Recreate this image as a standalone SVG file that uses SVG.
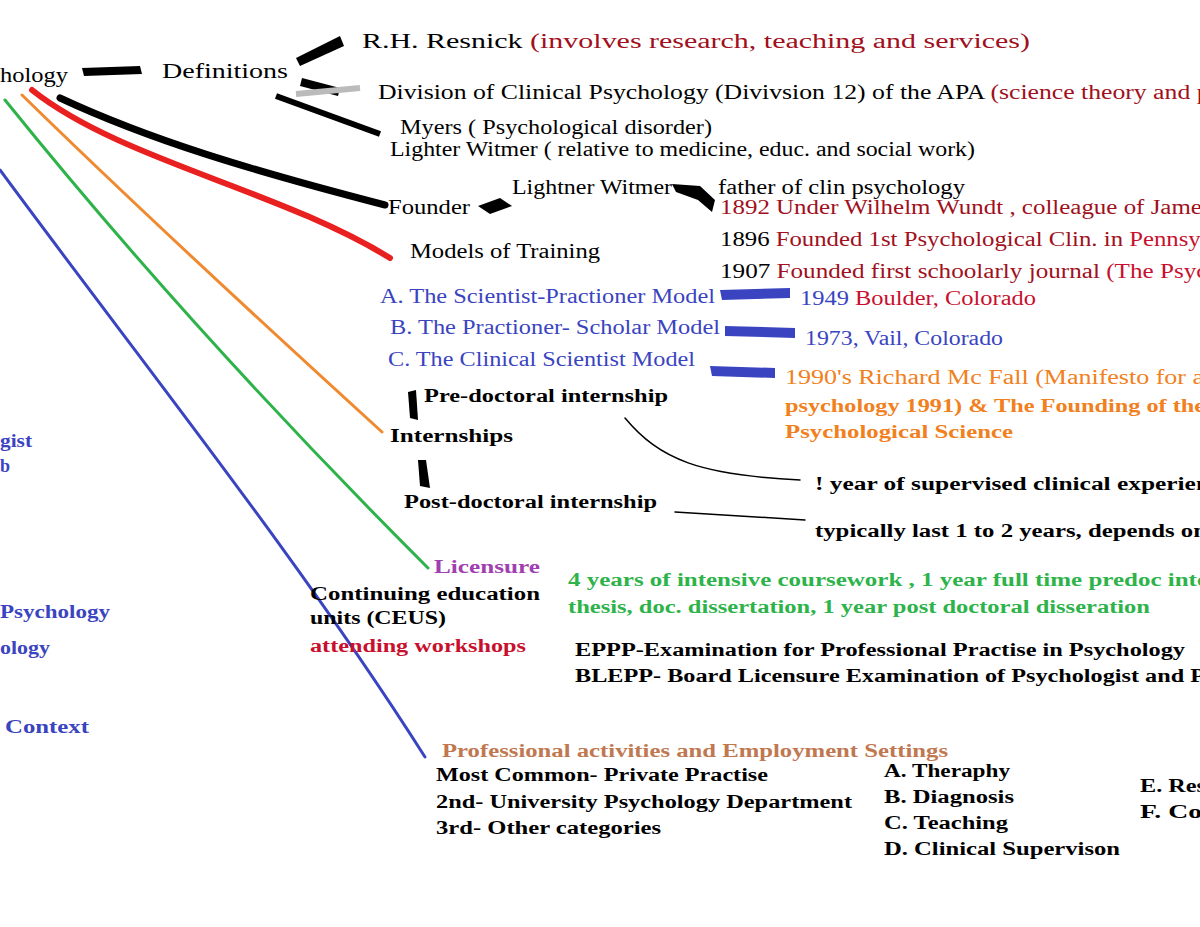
<svg xmlns="http://www.w3.org/2000/svg" width="1200" height="927" viewBox="0 0 1200 927">
<style>
text{font-family:"Liberation Serif",serif;font-size:20px}
.b{font-weight:bold;font-size:18px}
.k{fill:#000}.r{fill:#c8102e}.dr{fill:#a01020}.bl{fill:#3a44c0}.o{fill:#f08020}.g{fill:#2db34a}.p{fill:#a040b0}.br{fill:#c07850}
.ln{fill:none;stroke-linecap:round}
</style>
<rect width="1200" height="927" fill="#fff"/>
<g id="connectors">
<path class="ln" d="M60,98 C150,140 250,170 385,205" stroke="#000" stroke-width="7"/>
<path class="ln" d="M32,90 C120,160 280,190 390,258" stroke="#e82020" stroke-width="6"/>
<path class="ln" d="M22,95 C150,220 270,330 382,432" stroke="#f08a30" stroke-width="3"/>
<path class="ln" d="M5,100 C150,280 300,440 428,568" stroke="#2db34a" stroke-width="3"/>
<path class="ln" d="M0,170 C140,360 300,560 425,757" stroke="#3a44c0" stroke-width="3"/>
<path d="M82,68 L140,66 L142,74 L84,76Z" fill="#000"/>
<path d="M296,58 L340,36 L344,46 L300,66Z" fill="#000"/>
<path d="M302,78 L340,88 L338,96 L300,86Z" fill="#000"/>
<path d="M296,94 L360,88" stroke="#bbb" stroke-width="6" fill="none"/>
<path d="M276,96 L380,134" stroke="#000" stroke-width="6" fill="none"/>
<path d="M478,206 L500,198 L512,206 L490,214Z" fill="#000"/>
<path d="M672,184 L700,186 L715,200 L712,212 L698,200 L676,192Z" fill="#000"/>
<path d="M720,290 L790,288 L790,298 L722,300Z" fill="#3a44c0"/>
<path d="M725,326 L795,328 L795,338 L725,336Z" fill="#3a44c0"/>
<path d="M710,366 L775,368 L775,378 L712,376Z" fill="#3a44c0"/>
<path d="M408,392 L416,390 L418,420 L410,418Z" fill="#000"/>
<path d="M418,460 L426,460 L430,488 L420,486Z" fill="#000"/>
<path class="ln" d="M625,418 C660,460 700,475 800,480" stroke="#000" stroke-width="1.5"/>
<path class="ln" d="M675,512 L805,520" stroke="#000" stroke-width="1.5"/>
</g>
<g id="n-root"><text x="0" y="82" class="k" font-size="22" textLength="68" lengthAdjust="spacingAndGlyphs">hology</text></g>
<g id="n-def"><text x="162" y="78" class="k" font-size="22" textLength="126" lengthAdjust="spacingAndGlyphs">Definitions</text></g>
<g id="n-resnick"><text x="362" y="48" font-size="22" textLength="668" lengthAdjust="spacingAndGlyphs"><tspan class="k">R.H. Resnick </tspan><tspan class="dr">(involves research, teaching and services)</tspan></text></g>
<g id="n-div"><text x="378" y="99" textLength="900" lengthAdjust="spacingAndGlyphs"><tspan class="k">Division of Clinical Psychology (Divivsion 12) of the APA </tspan><tspan class="dr">(science theory and practice</tspan></text></g>
<g id="n-myers"><text x="400" y="134" class="k" textLength="312" lengthAdjust="spacingAndGlyphs">Myers ( Psychological disorder)</text></g>
<g id="n-lighter"><text x="390" y="156" class="k" textLength="585" lengthAdjust="spacingAndGlyphs">Lighter Witmer ( relative to medicine, educ. and social work)</text></g>
<g id="n-founder"><text x="388" y="214" class="k" textLength="82" lengthAdjust="spacingAndGlyphs">Founder</text><text x="512" y="194" class="k" textLength="160" lengthAdjust="spacingAndGlyphs">Lightner Witmer</text></g>
<g id="n-facts">
<text x="718" y="194" class="k" textLength="247" lengthAdjust="spacingAndGlyphs">father of clin psychology</text>
<text x="720" y="214" class="dr" textLength="520" lengthAdjust="spacingAndGlyphs">1892 Under Wilhelm Wundt , colleague of James M</text>
<text x="720" y="246" textLength="500" lengthAdjust="spacingAndGlyphs"><tspan class="k">1896 </tspan><tspan class="dr">Founded 1st Psychological Clin. in </tspan><tspan class="r">Pennsylv</tspan></text>
<text x="720" y="278" textLength="500" lengthAdjust="spacingAndGlyphs"><tspan class="k">1907 </tspan><tspan class="dr">Founded first schoolarly journal </tspan><tspan class="r">(The Psych</tspan></text>
</g>
<g id="n-models"><text x="410" y="258" class="k" textLength="190" lengthAdjust="spacingAndGlyphs">Models of Training</text>
<text x="380" y="303" class="bl" textLength="335" lengthAdjust="spacingAndGlyphs">A. The Scientist-Practioner Model</text>
<text x="390" y="334" class="bl" textLength="330" lengthAdjust="spacingAndGlyphs">B. The Practioner- Scholar Model</text>
<text x="388" y="366" class="bl" textLength="307" lengthAdjust="spacingAndGlyphs">C. The Clinical Scientist Model</text>
<text x="800" y="305" class="bl" textLength="236" lengthAdjust="spacingAndGlyphs">1949 <tspan class="r">Boulder, Colorado</tspan></text>
<text x="805" y="345" class="bl" textLength="198" lengthAdjust="spacingAndGlyphs">1973, Vail, Colorado</text>
<text x="785" y="384" class="o" textLength="440" lengthAdjust="spacingAndGlyphs">1990's Richard Mc Fall (Manifesto for a S</text>
<text x="785" y="412" class="o b" textLength="420" lengthAdjust="spacingAndGlyphs">psychology 1991) &amp; The Founding of the</text>
<text x="785" y="438" class="o b" textLength="228" lengthAdjust="spacingAndGlyphs">Psychological Science</text>
</g>
<g id="n-intern">
<text x="390" y="442" class="k b" textLength="123" lengthAdjust="spacingAndGlyphs">Internships</text>
<text x="424" y="402" class="k b" textLength="244" lengthAdjust="spacingAndGlyphs">Pre-doctoral internship</text>
<text x="404" y="508" class="k b" textLength="253" lengthAdjust="spacingAndGlyphs">Post-doctoral internship</text>
<text x="815" y="490" class="k b" textLength="395" lengthAdjust="spacingAndGlyphs">! year of supervised clinical experien</text>
<text x="815" y="537" class="k b" textLength="392" lengthAdjust="spacingAndGlyphs">typically last 1 to 2 years, depends on</text>
</g>
<g id="n-lic">
<text x="434" y="573" class="p b" textLength="106" lengthAdjust="spacingAndGlyphs">Licensure</text>
<text x="310" y="600" class="k b" textLength="230" lengthAdjust="spacingAndGlyphs">Continuing education</text>
<text x="310" y="624" class="k b" textLength="136" lengthAdjust="spacingAndGlyphs">units (CEUS)</text>
<text x="310" y="652" class="r b" textLength="216" lengthAdjust="spacingAndGlyphs">attending workshops</text>
<text x="568" y="586" class="g b" textLength="640" lengthAdjust="spacingAndGlyphs">4 years of intensive coursework , 1 year full time predoc inte</text>
<text x="568" y="613" class="g b" textLength="582" lengthAdjust="spacingAndGlyphs">thesis, doc. dissertation, 1 year post doctoral disseration</text>
<text x="575" y="656" class="k b" textLength="610" lengthAdjust="spacingAndGlyphs">EPPP-Examination for Professional Practise in Psychology</text>
<text x="575" y="682" class="k b" textLength="630" lengthAdjust="spacingAndGlyphs">BLEPP- Board Licensure Examination of Psychologist and P</text>
</g>
<g id="n-prof">
<text x="442" y="757" class="br b" textLength="506" lengthAdjust="spacingAndGlyphs">Professional activities and Employment Settings</text>
<text x="436" y="781" class="k b" textLength="332" lengthAdjust="spacingAndGlyphs">Most Common- Private Practise</text>
<text x="436" y="808" class="k b" textLength="416" lengthAdjust="spacingAndGlyphs">2nd- University Psychology Department</text>
<text x="436" y="834" class="k b" textLength="225" lengthAdjust="spacingAndGlyphs">3rd- Other categories</text>
<text x="884" y="777" class="k b" textLength="126" lengthAdjust="spacingAndGlyphs">A. Theraphy</text>
<text x="884" y="803" class="k b" textLength="130" lengthAdjust="spacingAndGlyphs">B. Diagnosis</text>
<text x="884" y="829" class="k b" textLength="124" lengthAdjust="spacingAndGlyphs">C. Teaching</text>
<text x="884" y="855" class="k b" textLength="236" lengthAdjust="spacingAndGlyphs">D. Clinical Supervison</text>
<text x="1140" y="792" class="k b" textLength="66" lengthAdjust="spacingAndGlyphs">E. Res</text>
<text x="1140" y="818" class="k b" textLength="62" lengthAdjust="spacingAndGlyphs">F. Co</text>
</g>
<g id="n-left">
<text x="0" y="447" class="bl b" textLength="32" lengthAdjust="spacingAndGlyphs">gist</text>
<text x="0" y="472" class="bl b">b</text>
<text x="0" y="618" class="bl b" textLength="110" lengthAdjust="spacingAndGlyphs">Psychology</text>
<text x="0" y="654" class="bl b" textLength="50" lengthAdjust="spacingAndGlyphs">ology</text>
<text x="5" y="733" class="bl b" textLength="84" lengthAdjust="spacingAndGlyphs">Context</text>
</g>
</svg>
